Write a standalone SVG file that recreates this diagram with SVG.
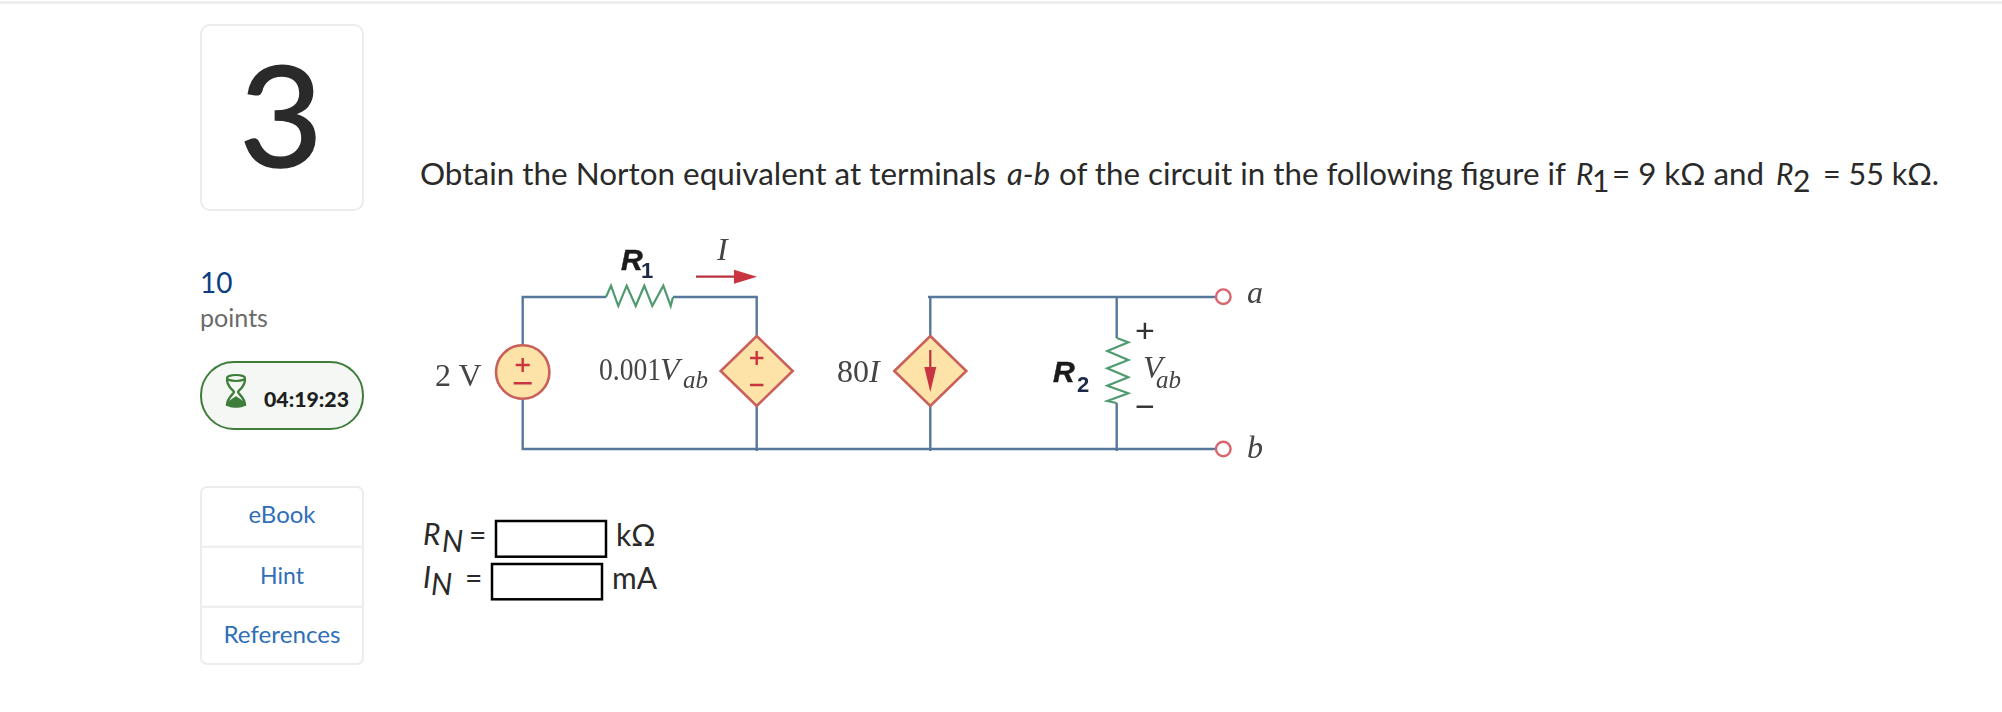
<svg xmlns="http://www.w3.org/2000/svg" width="2002" height="712" viewBox="0 0 2002 712">
<defs>
<filter id="soft" x="-5%" y="-5%" width="110%" height="110%"><feGaussianBlur stdDeviation="0.5"/></filter>
</defs>
<style>
text{font-family:"Lato","Liberation Sans",sans-serif;fill:#2a2a2a}
.q{font-size:30px}
.i{font-style:italic}
.card{fill:#fff;stroke:#ececec;stroke-width:2}
.btn{font-size:23px;fill:#2f6fb8;text-anchor:middle}
.box{fill:#fff;stroke:#000;stroke-width:2.5}
.wire{fill:none;stroke:#56789c;stroke-width:2.4}
.res{fill:none;stroke:#4f9a6e;stroke-width:2.2}
.src{fill:#fde3a8;stroke:#c9605a;stroke-width:2.6}
.term{fill:#fff;stroke:#d9666e;stroke-width:2.4}
.ser{font-family:"Liberation Serif",serif;font-size:32px;fill:#444}
.seri{font-family:"Liberation Serif",serif;font-style:italic;font-size:32px;fill:#444}
.sub{font-family:"Liberation Serif",serif;font-style:italic;font-size:26px;fill:#444}
.bold{font-family:"Liberation Sans",sans-serif;font-weight:bold;font-style:italic;font-size:30px;fill:#1a1a1a;stroke:#1a1a1a;stroke-width:.5}
.bsub{font-family:"Liberation Sans",sans-serif;font-weight:bold;font-size:22px;fill:#1a2a44}
.sign{font-family:"Liberation Sans",sans-serif;font-size:34px;text-anchor:middle;fill:#333}
.pol{stroke:#c8343f;stroke-width:2.4;fill:none}
.red{fill:#c8343f}
</style>
<rect x="0" y="1" width="2002" height="3" fill="#efefef"/>
<g id="question-number"><rect class="card" x="201" y="25" width="162" height="185" rx="9"/><text x="281" y="167" font-size="139" text-anchor="middle" stroke="#2a2a2a" stroke-width="1.500" textLength="84" lengthAdjust="spacingAndGlyphs">3</text></g>
<g id="points"><text x="200" y="293" font-size="28" style="fill:#0b3f7f">10</text><text x="200" y="327" font-size="25" textLength="68" lengthAdjust="spacingAndGlyphs" style="fill:#6b6b6b">points</text></g>
<g id="timer"><rect x="201" y="362" width="162" height="67" rx="33" fill="#f5f7f4" stroke="#3e7d3a" stroke-width="2"/>
<ellipse cx="236" cy="378" rx="9" ry="3" fill="none" stroke="#3e7d3a" stroke-width="2.200"/>
<path d="M227 379C227 388 234 390 234 392C234 394 227 397 227 406M245 379C245 388 238 390 238 392C238 394 245 397 245 406" fill="none" stroke="#3e7d3a" stroke-width="2.400"/>
<path d="M226 404C229 400 234 398 236 396C238 398 243 400 246 404C246 409 226 409 226 404Z" fill="#3e7d3a"/>
<text x="264" y="407" font-size="21" font-weight="900" textLength="85" lengthAdjust="spacingAndGlyphs" style="fill:#1f1f1f">04:19:23</text></g>
<g id="links"><rect class="card" x="201" y="487" width="162" height="177" rx="6"/><path d="M201 546.700H363M201 606.700H363" stroke="#ececec" stroke-width="2"/>
<text class="btn" x="282" y="523" textLength="67" lengthAdjust="spacingAndGlyphs">eBook</text><text class="btn" x="282" y="584">Hint</text><text class="btn" x="282" y="643" textLength="117" lengthAdjust="spacingAndGlyphs">References</text></g>
<g id="question-text" class="q">
<text class="q" x="420" y="185" textLength="576" lengthAdjust="spacingAndGlyphs">Obtain the Norton equivalent at terminals</text>
<text class="q i" x="1007" y="185" textLength="43" lengthAdjust="spacingAndGlyphs">a-b</text>
<text class="q" x="1059" y="185" textLength="507" lengthAdjust="spacingAndGlyphs">of the circuit in the following figure if</text>
<text class="q i" x="1576" y="185">R</text><text class="q" x="1592" y="192">1</text>
<text class="q" x="1612" y="185" textLength="152" lengthAdjust="spacingAndGlyphs">= 9 kΩ and</text>
<text class="q i" x="1776" y="185">R</text><text class="q" x="1793" y="192">2</text>
<text class="q" x="1823" y="185" textLength="116" lengthAdjust="spacingAndGlyphs">= 55 kΩ.</text>
</g>
<g id="connectors" filter="url(#soft)">
<path class="wire" d="M522.700 345V297H606M673 297H756.700V336M756.700 406V451M522.700 399V449H1216M928 297H1216M930.300 297V336M930.300 406V451M1116.700 297V338M1116.700 403V451"/>
</g>
<g id="R1" filter="url(#soft)"><path class="res" d="M606 297L611 285.700L618.300 306L626.700 285.700L635.700 306L644.300 285.700L652.300 306L663.300 285.700L670.700 306L673 297"/>
<text class="bold" x="621" y="270">R</text><text class="bsub" x="641" y="278">1</text></g>
<g id="I-arrow" filter="url(#soft)"><path d="M696 276.700H736" stroke="#b8333f" stroke-width="2.200"/><path class="red" d="M734 269.700L757 276.700L734 283.700Z"/><text class="seri" x="717" y="260" font-size="34">I</text></g>
<g id="V-source" filter="url(#soft)"><circle class="src" cx="522.700" cy="372" r="26.700"/><path class="pol" d="M515.700 365H529.700M522.700 358V372M513.700 383.300H531.700"/><text class="ser" x="435" y="386">2 V</text></g>
<g id="dep-V-source" filter="url(#soft)"><path class="src" d="M756.700 336L792.700 371L756.700 406L720.700 371Z"/><path class="pol" d="M750 358H763.400M756.700 351V365M750 385H763.400"/>
<text class="ser" x="599" y="380" textLength="62" lengthAdjust="spacingAndGlyphs">0.001</text><text class="seri" x="660" y="380">V</text><text class="sub" x="683" y="388" textLength="25" lengthAdjust="spacingAndGlyphs">ab</text></g>
<g id="dep-I-source" filter="url(#soft)"><path class="src" d="M930.300 336L966.300 371L930.300 406L894.300 371Z"/><path d="M930.300 350V372" stroke="#b8333f" stroke-width="2.200"/><path class="red" d="M924.300 367L936.300 367L930.300 392Z"/>
<text class="ser" x="837" y="382">80</text><text class="seri" x="869" y="382">I</text></g>
<g id="R2" filter="url(#soft)"><path class="res" d="M1116.700 338L1128.300 342.300L1107.300 351L1128.300 360L1107.300 368.300L1128.300 377.300L1107.300 385.700L1128.300 393.300L1107.300 401L1116.700 403"/>
<text class="bold" x="1053" y="382">R</text><text class="bsub" x="1077" y="392">2</text>
<text class="sign" x="1145" y="342">+</text><text class="sign" x="1145" y="418">−</text><text class="seri" x="1143" y="378">V</text><text class="sub" x="1156" y="388" textLength="25" lengthAdjust="spacingAndGlyphs">ab</text></g>
<g id="terminal-a" filter="url(#soft)"><circle class="term" cx="1223.300" cy="296.700" r="7.300"/><text class="seri" x="1247" y="303">a</text></g>
<g id="terminal-b" filter="url(#soft)"><circle class="term" cx="1223.300" cy="449" r="7.300"/><text class="seri" x="1247" y="458">b</text></g>
<g id="answers">
<text class="q i" x="423" y="545">R</text><text class="q i" x="442" y="552">N</text><text class="q" x="469" y="546">=</text><rect class="box" x="496" y="521" width="110" height="35.700"/><text class="q" x="616" y="546">kΩ</text>
<text class="q i" x="423" y="588">I</text><text class="q i" x="431" y="595">N</text><text class="q" x="465" y="589">=</text><rect class="box" x="492" y="564" width="110" height="35.300"/><text class="q" x="612" y="589">mA</text>
</g>
</svg>
